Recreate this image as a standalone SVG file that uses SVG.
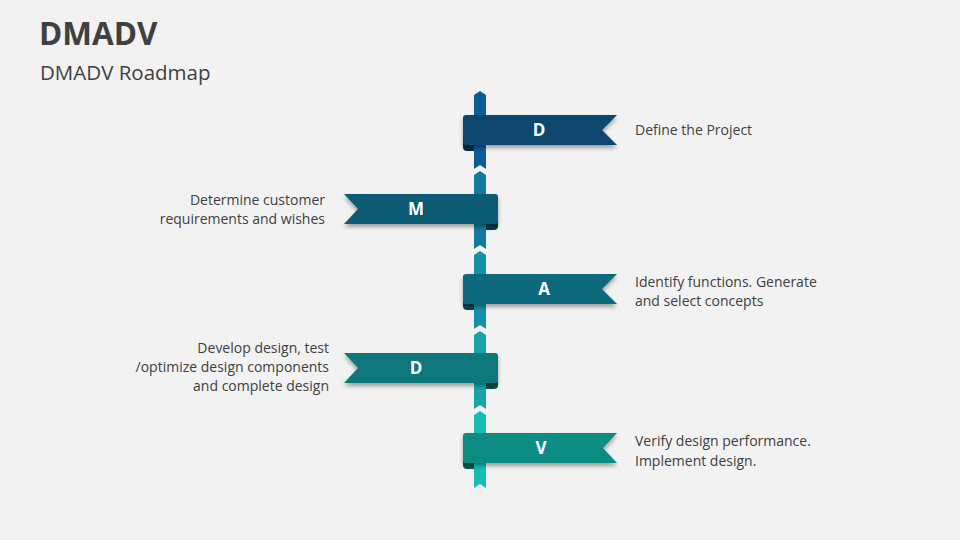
<svg xmlns="http://www.w3.org/2000/svg" width="960" height="540" viewBox="0 0 960 540">
<defs>
<filter id="sh" x="-10%" y="-30%" width="120%" height="170%">
<feDropShadow dx="0" dy="3" stdDeviation="2" flood-color="#000" flood-opacity="0.35"/>
</filter>
<style>
.t{font-family:"Open Sans","Liberation Sans",sans-serif;fill:#404040}
.d{font-size:14px}
.lbl{font-family:"Open Sans","Liberation Sans",sans-serif;font-weight:bold;font-size:17px;fill:#fff;text-anchor:middle}
.r{text-anchor:end}
</style>
</defs>
<rect width="960" height="540" fill="#F2F2F2"/>
<text class="t" x="39" y="45" font-size="31.5" font-weight="bold">DMADV</text>
<text class="t" x="40" y="80" font-size="20.5">DMADV Roadmap</text>

<g id="curls">
<rect x="463" y="131" width="20" height="20" rx="4" fill="#062C47"/>
<rect x="478" y="210" width="20" height="20" rx="4" fill="#053A4C"/>
<rect x="463" y="290" width="20" height="20" rx="4" fill="#074652"/>
<rect x="478" y="369" width="20" height="20" rx="4" fill="#084E52"/>
<rect x="463" y="449" width="20" height="20" rx="4" fill="#075A55"/>
</g>

<g id="connectors">
<path d="M474 95 L480 91 L486 95 V169 L480 165 L474 169 Z" fill="#0E5C97"/>
<path d="M474 175 L480 171 L486 175 V249 L480 245 L474 249 Z" fill="#12789D"/>
<path d="M474 255 L480 251 L486 255 V329 L480 325 L474 329 Z" fill="#1490A6"/>
<path d="M474 335 L480 331 L486 335 V409 L480 405 L474 409 Z" fill="#16A4AA"/>
<path d="M474 415 L480 411 L486 415 V488 L480 484 L474 488 Z" fill="#16BDB3"/>
</g>

<g id="step-d1">
<path d="M466 115 H617 L602 130 L617 145 H466 Q463 145 463 142 V118 Q463 115 466 115 Z" fill="#0B4670" filter="url(#sh)"/>
<text class="lbl" x="539" y="136">D</text>
<text class="t d" x="635" y="135">Define the Project</text>
</g>

<g id="step-m">
<path d="M344 194 H495 Q498 194 498 197 V221 Q498 224 495 224 H344 L358 209 Z" fill="#0A5A75" filter="url(#sh)"/>
<text class="lbl" x="416" y="215">M</text>
<text class="t d r" x="325" y="205">Determine customer</text>
<text class="t d r" x="325" y="224">requirements and wishes</text>
</g>

<g id="step-a">
<path d="M466 274 H617 L602 289 L617 304 H466 Q463 304 463 301 V277 Q463 274 466 274 Z" fill="#0E6A7B" filter="url(#sh)"/>
<text class="lbl" x="544" y="295">A</text>
<text class="t d" x="635" y="287">Identify functions. Generate</text>
<text class="t d" x="635" y="306">and select concepts</text>
</g>

<g id="step-d2">
<path d="M344 353 H495 Q498 353 498 356 V380 Q498 383 495 383 H344 L358 368 Z" fill="#0F777C" filter="url(#sh)"/>
<text class="lbl" x="416" y="374">D</text>
<text class="t d r" x="329" y="353">Develop design, test</text>
<text class="t d r" x="329" y="372">/optimize design components</text>
<text class="t d r" x="329" y="391">and complete design</text>
</g>

<g id="step-v">
<path d="M466 433 H617 L603 448 L617 463 H466 Q463 463 463 460 V436 Q463 433 466 433 Z" fill="#0F8C84" filter="url(#sh)"/>
<text class="lbl" x="541" y="454">V</text>
<text class="t d" x="635" y="446">Verify design performance.</text>
<text class="t d" x="635" y="466">Implement design.</text>
</g>
</svg>
